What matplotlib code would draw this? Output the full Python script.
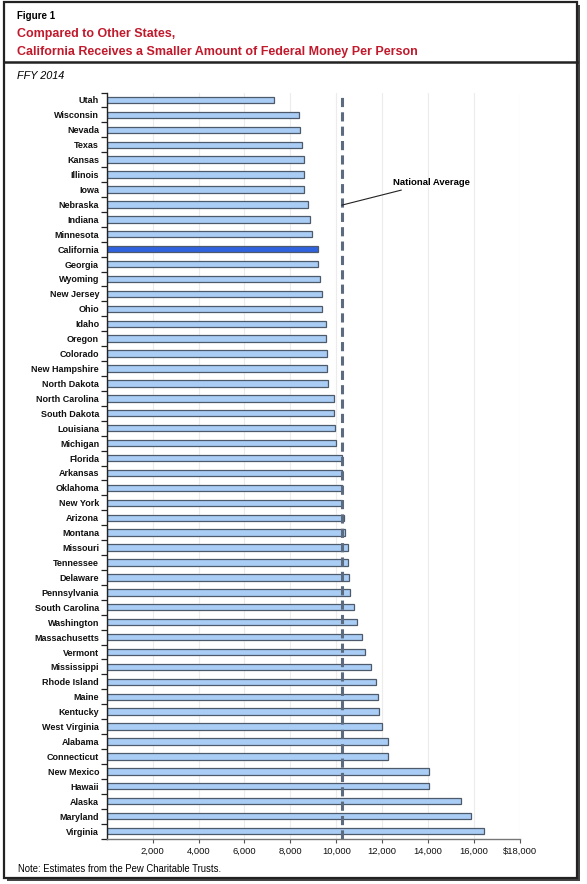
import matplotlib
matplotlib.use("Agg")
import matplotlib.pyplot as plt
from matplotlib.patches import Rectangle
from matplotlib.lines import Line2D
from matplotlib.ticker import FixedLocator

states = ["Utah", "Wisconsin", "Nevada", "Texas", "Kansas", "Illinois", "Iowa",
          "Nebraska", "Indiana", "Minnesota", "California", "Georgia", "Wyoming",
          "New Jersey", "Ohio", "Idaho", "Oregon", "Colorado", "New Hampshire",
          "North Dakota", "North Carolina", "South Dakota", "Louisiana", "Michigan",
          "Florida", "Arkansas", "Oklahoma", "New York", "Arizona", "Montana",
          "Missouri", "Tennessee", "Delaware", "Pennsylvania", "South Carolina",
          "Washington", "Massachusetts", "Vermont", "Mississippi", "Rhode Island",
          "Maine", "Kentucky", "West Virginia", "Alabama", "Connecticut",
          "New Mexico", "Hawaii", "Alaska", "Maryland", "Virginia"]
values = [7300, 8390, 8440, 8520, 8610, 8610, 8610,
          8780, 8840, 8955, 9200, 9215, 9270,
          9360, 9390, 9530, 9560, 9575, 9575,
          9635, 9905, 9920, 9950, 9995,
          10235, 10250, 10235, 10250, 10325, 10370,
          10500, 10510, 10540, 10615, 10785,
          10900, 11130, 11260, 11490, 11720,
          11810, 11850, 12010, 12250, 12270,
          14030, 14045, 15420, 15870, 16420]
national_average = 10240
xticks = [2000, 4000, 6000, 8000, 10000, 12000, 14000, 16000, 18000]
xtick_labels = ["2,000", "4,000", "6,000", "8,000", "10,000", "12,000", "14,000", "16,000", "$18,000"]
highlight = "California"

W, H = 587, 884
fig = plt.figure(figsize=(W / 100, H / 100), dpi=100)
plt.rcParams['font.family'] = ['Liberation Sans', 'DejaVu Sans']

def fx(px):
    return px / W

def fy(py):
    return 1 - py / H

# Frame with shadow
fig.patches.append(Rectangle((fx(7), fy(881)), fx(580) - fx(7), fy(5) - fy(881),
                             transform=fig.transFigure, facecolor="#444444",
                             edgecolor="none", zorder=0))
fig.patches.append(Rectangle((fx(4), fy(878)), fx(577) - fx(4), fy(2) - fy(878),
                             transform=fig.transFigure, facecolor="white",
                             edgecolor="#222222", linewidth=1.6, zorder=1))
fig.lines.append(Line2D([fx(4), fx(577)], [fy(62), fy(62)], transform=fig.transFigure,
                        color="#222222", linewidth=1.8, zorder=2))

fig.text(fx(17), fy(16), "Figure 1", fontsize=7.0, fontweight="bold",
         va="center", ha="left", color="black")
fig.text(fx(17), fy(34), "Compared to Other States,", fontsize=9.0, fontweight="bold",
         va="center", ha="left", color="#c01a2c")
fig.text(fx(17), fy(52), "California Receives a Smaller Amount of Federal Money Per Person",
         fontsize=9.0, fontweight="bold", va="center", ha="left", color="#c01a2c")
fig.text(fx(17), fy(76), "FFY 2014", fontsize=7.8, fontstyle="italic",
         va="center", ha="left", color="black")
fig.text(fx(18), fy(869), "Note: Estimates from the Pew Charitable Trusts.", fontsize=6.85,
         va="center", ha="left", color="black")

left, right, top, bottom = 106.7, 520, 92.5, 838.5
ax = fig.add_axes([fx(left), fy(bottom), fx(right) - fx(left), fy(top) - fy(bottom)])
ax.set_zorder(3)
ax.patch.set_alpha(0)

n = len(states)
ypos = list(range(n))
colors = ["#2f62df" if s == highlight else "#a9cdf4" for s in states]
ax.barh(ypos, values, height=0.43, color=colors, edgecolor="#4d5a6b",
        linewidth=0.9, zorder=2)
ax.axvline(national_average, color="#5d6b80", linewidth=2.2,
           dashes=(3.0, 1.7), zorder=3)

ax.set_xlim(0, 18000)
ax.set_ylim(n - 0.5, -0.5)
ax.set_yticks(ypos)
ax.set_yticklabels(states, fontsize=6.5, fontweight="bold", color="#111111")
ax.yaxis.set_minor_locator(FixedLocator([i - 0.5 for i in range(n + 1)]))
ax.tick_params(axis="y", which="major", length=0, pad=5.5)
ax.tick_params(axis="y", which="minor", length=4, width=0.9, color="#222222")
ax.set_xticks(xticks)
ax.set_xticklabels(xtick_labels, fontsize=6.8, color="#111111")
ax.tick_params(axis="x", length=3, width=0.8, color="#555555", pad=3)
ax.xaxis.grid(True, color="#ececec", linewidth=0.8, zorder=0)
ax.set_axisbelow(True)
for s in ["top", "right"]:
    ax.spines[s].set_visible(False)
ax.spines["left"].set_color("#222222")
ax.spines["left"].set_linewidth(1.0)
ax.spines["bottom"].set_color("#777777")
ax.spines["bottom"].set_linewidth(1.0)

ax.annotate("National Average", xy=(national_average, 7.05), xytext=(12470, 5.53),
            fontsize=6.8, fontweight="bold", va="center", ha="left",
            arrowprops=dict(arrowstyle="-", color="#222222", linewidth=0.8,
                            shrinkA=1, shrinkB=0))

fig.savefig("out.png", dpi=100)
